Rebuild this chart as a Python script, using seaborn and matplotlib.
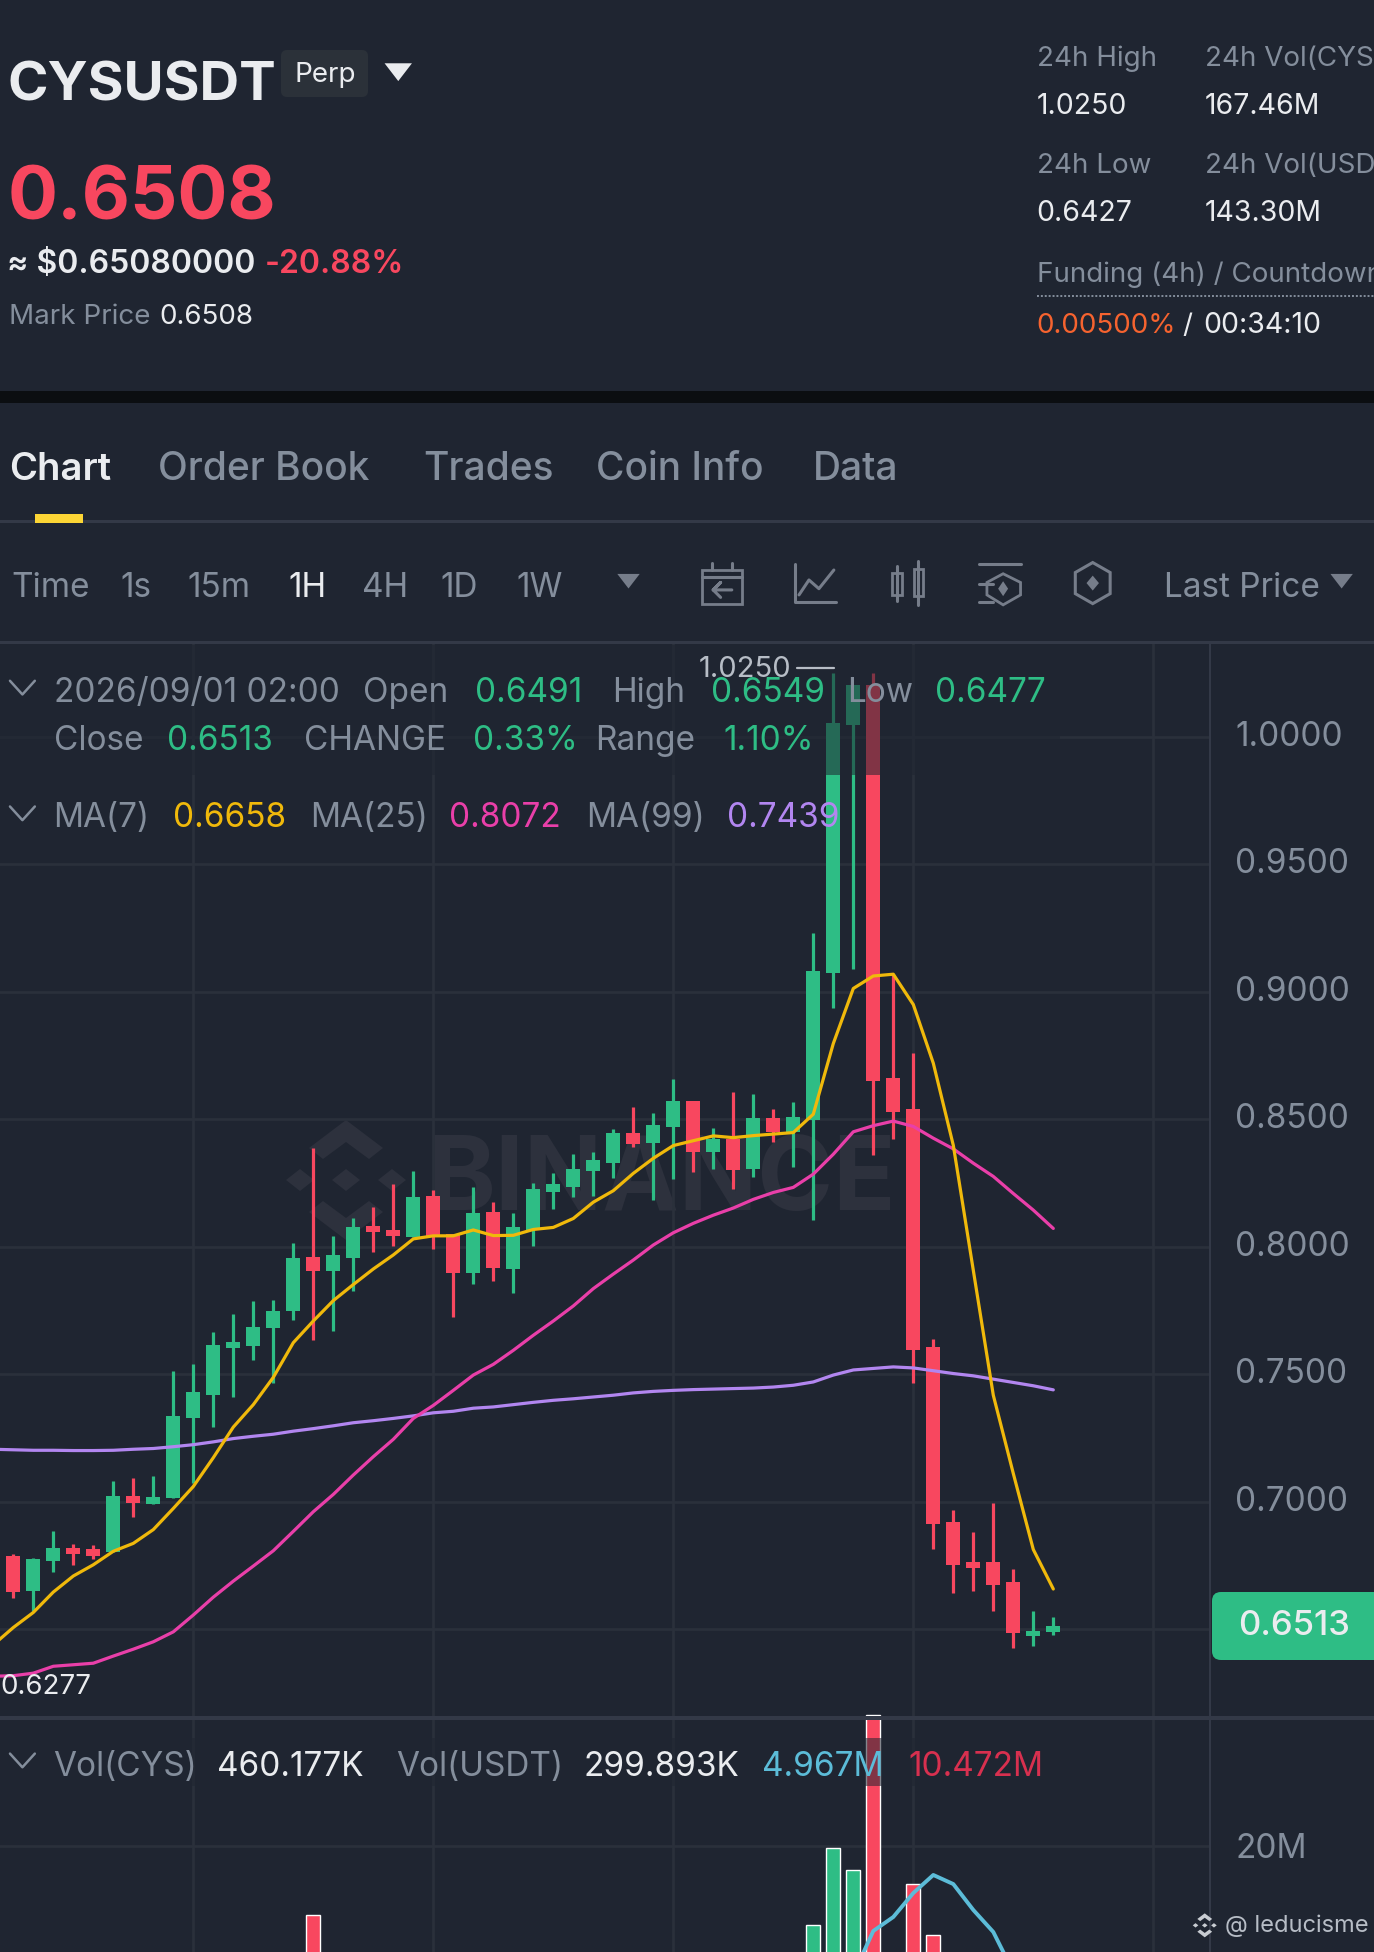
import numpy as np
import pandas as pd
import matplotlib
matplotlib.use("Agg")
import matplotlib.pyplot as plt
from matplotlib.patches import Polygon, Rectangle, FancyBboxPatch
from matplotlib.transforms import ScaledTranslation
import seaborn as sns

# ---------- data ----------
first_index = -1
opens = [.6646,.6789,.6650,.6767,.6820,.6813,.6803,.7024,.6993,.7014,.7330,.7418,.7605,.7612,.7680,.7747,.7961,.7905,
         .7957,.8080,.8066,.8039,.8201,.8049,.7896,.8138,.7914,.8065,.8216,.8236,.8297,.8329,.8445,.8407,.8469,.8572,
         .8373,.8424,.8304,.8505,.8450,.8496,.9072,1.0045,1.0202,.8662,.8542,.7608,.6922,.6765,.6765,.6686,.6475,.6491]
closes = [.6791,.6646,.6777,.6820,.6796,.6787,.7022,.6995,.7020,.7337,.7430,.7614,.7626,.7684,.7748,.7957,.7906,.7966,
          .8078,.8058,.8044,.8196,.8041,.7896,.8133,.7915,.8076,.8225,.8246,.8306,.8339,.8445,.8404,.8476,.8571,.8373,
          .8424,.8300,.8505,.8450,.8508,.9082,1.0055,1.0202,.8651,.8528,.7597,.6912,.6754,.6742,.6674,.6484,.6494,.6513]
highs = [.6791,.6796,.6779,.6884,.6833,.6830,.7080,.7094,.7100,.7514,.7539,.7667,.7738,.7786,.7791,.8015,.8388,.8044,
         .8112,.8158,.8248,.8296,.8223,.8049,.8236,.8177,.8134,.8249,.8288,.8363,.8370,.8461,.8550,.8524,.8657,.8572,
         .8466,.8609,.8599,.8542,.8569,.9230,1.0250,1.0202,1.0250,.9069,.8759,.7639,.6967,.6882,.6996,.6737,.6570,.6549]
lows = [.6646,.6621,.6570,.6723,.6752,.6777,.6803,.6940,.6990,.7014,.7075,.7293,.7412,.7556,.7466,.7711,.7636,.7670,
        .7827,.7978,.8002,.8039,.7993,.7726,.7854,.7864,.7817,.8003,.8147,.8194,.8199,.8271,.8390,.8183,.8264,.8292,
        .8304,.8225,.8272,.8412,.8314,.8105,.8936,.9090,.8359,.8423,.7467,.6816,.6644,.6651,.6571,.6427,.6433,.6477]
ma7 = [.6439,.6507,.6566,.6646,.6709,.6753,.6806,.6837,.6891,.6974,.7060,.7173,.7293,.7381,.7488,.7624,.7709,.7789,
       .7852,.7913,.7968,.8031,.8043,.8043,.8066,.8044,.8045,.8068,.8076,.8111,.8175,.8220,.8288,.8347,.8397,.8416,
       .8435,.8428,.8436,.8442,.8448,.8520,.8797,.9013,.9062,.9069,.8950,.8720,.8398,.7908,.7418,.7111,.6813,.6658]
ma25 = [.6316,.6318,.6328,.6355,.6361,.6367,.6395,.6422,.6451,.6490,.6556,.6626,.6689,.6748,.6808,.6884,.6961,.7029,
        .7105,.7177,.7245,.7327,.7378,.7437,.7497,.7539,.7594,.7653,.7709,.7768,.7836,.7893,.7948,.8007,.8055,.8092,
        .8124,.8152,.8186,.8213,.8233,.8285,.8363,.8451,.8475,.8493,.8472,.8426,.8384,.8328,.8276,.8209,.8144,.8072]
ma99 = [.7206,.7204,.7202,.7202,.7201,.7201,.7202,.7206,.7209,.7216,.7224,.7235,.7248,.7257,.7265,.7277,.7287,.7298,
        .7310,.7318,.7327,.7337,.7349,.7355,.7367,.7372,.7381,.7390,.7398,.7404,.7411,.7418,.7427,.7433,.7437,.7440,
        .7442,.7444,.7446,.7450,.7457,.7470,.7497,.7517,.7523,.7529,.7525,.7514,.7503,.7494,.7481,.7468,.7455,.7439]
price_ticks = [0.65, 0.70, 0.75, 0.80, 0.85, 0.90, 0.95, 1.00]
price_labels = ["", "0.7000", "0.7500", "0.8000", "0.8500", "0.9000", "0.9500", "1.0000"]
grid_candles = [9, 21, 33, 45, 57]

vol_index = [15, 40, 41, 42, 43, 45, 46]
vol_millions = [13.2, 12.3, 19.8, 17.6, 32.8, 16.3, 11.3]
vol_is_up = [False, True, True, True, False, False, False]
vol_ma_index = [42, 43, 44, 45, 46, 47, 48, 49, 50]
vol_ma5 = [7.4, 11.67, 13.04, 15.39, 17.16, 16.27, 13.73, 11.57, 7.65]

# ---------- style ----------
BG = "#1F2531"; GRID = "#2A303B"; LINE = "#333947"
GREEN = "#2EBD85"; RED = "#F8475F"; YEL = "#F0B90B"; PINK = "#E93FA9"; PUR = "#B286F0"; BLUE = "#5CBCD8"
GRAY = "#848E9C"; WHITE = "#EAECEF"; WM = "#2D313D"
sns.set_theme(style="dark")
plt.rcParams["font.family"] = ["Inter", "DejaVu Sans"]
W, H = 1374, 1952
fig = plt.figure(figsize=(W / 100, H / 100), dpi=100, facecolor=BG)

def axes_px(x0, y0, x1, y1, z):
    a = fig.add_axes([x0 / W, 1 - y1 / H, (x1 - x0) / W, (y1 - y0) / H], zorder=z)
    a.patch.set_alpha(0)
    return a

S = W / 1104.0
# ---------- background UI axes (watermark) ----------
back = axes_px(0, 0, W, H, 0); back.set_xlim(0, W); back.set_ylim(H, 0); back.axis("off")

def diamond(a, cx, cy, r, color, z=1, ry=None):
    ry = ry or r
    a.add_patch(Polygon([(cx - r, cy), (cx, cy - ry), (cx + r, cy), (cx, cy + ry)], fc=color, ec="none", zorder=z))

def binance_logo(a, cx, cy, u, color, z=1):
    diamond(a, cx, cy, 14 * u, color, z, 11 * u)
    diamond(a, cx - 46 * u, cy, 14 * u, color, z, 11 * u)
    diamond(a, cx + 46 * u, cy, 14 * u, color, z, 11 * u)
    for s in (-1, 1):
        a.add_patch(Polygon([(cx, cy + s * 60 * u), (cx + 37 * u, cy + s * 32 * u), (cx + 23 * u, cy + s * 21 * u),
                             (cx, cy + s * 38 * u), (cx - 23 * u, cy + s * 21 * u), (cx - 37 * u, cy + s * 32 * u)],
                            fc=color, ec="none", zorder=z))

binance_logo(back, 346, 1180, 1.0, WM)
back.text(427, 1183, "BINANCE", color=WM, fontsize=74, fontweight="bold", va="center", ha="left")

# ---------- price pane ----------
ax = axes_px(0, 643, 1210, 1718, 5)
xmin, xmax = -13.3 / 20, (1210 - 13.3) / 20
x = np.arange(first_index, first_index + len(opens))
df = pd.DataFrame(dict(x=x, o=opens, c=closes, h=highs, l=lows, ma7=ma7, ma25=ma25, ma99=ma99))
up = df.c >= df.o
cols = np.where(up, GREEN, RED)
ax.vlines(df.x, df.l, df.h, colors=cols, linewidth=2.3, zorder=3)
ax.bar(df.x, (df.c - df.o).abs(), bottom=df[["o", "c"]].min(axis=1), width=0.7, color=cols, zorder=3, linewidth=0)
sns.lineplot(data=df, x="x", y="ma99", ax=ax, color=PUR, linewidth=2.3, zorder=4)
sns.lineplot(data=df, x="x", y="ma25", ax=ax, color=PINK, linewidth=2.3, zorder=4)
sns.lineplot(data=df, x="x", y="ma7", ax=ax, color=YEL, linewidth=2.3, zorder=4)
ax.set_xlim(xmin, xmax)
ax.set_ylim(0.65 - 88.7 / 2550, 0.65 + 986.3 / 2550)
ax.set_xticks(grid_candles); ax.set_xticklabels([])
ax.set_yticks(price_ticks); ax.set_yticklabels(price_labels, color=GRAY, fontsize=24)
ax.yaxis.tick_right()
ax.tick_params(axis="y", length=0, pad=18); ax.tick_params(axis="x", length=0)
ax.set_xlabel(""); ax.set_ylabel("")
ax.grid(True, color=GRID, linewidth=2.0, zorder=0); ax.set_axisbelow(True)
for s in ax.spines.values():
    s.set_visible(False)
nudge = ScaledTranslation(0, 2.5 / 72, fig.dpi_scale_trans)
for lab in ax.get_yticklabels():
    lab.set_transform(lab.get_transform() + nudge)

# ---------- volume pane ----------
vx = axes_px(0, 1718, 1210, H, 5)
vdf = pd.DataFrame(dict(x=vol_ma_index, m=vol_ma5))
bars = vx.bar(vol_index, vol_millions, width=0.7, color=[GREEN if u else RED for u in vol_is_up], zorder=3, clip_on=False)
sns.lineplot(data=vdf, x="x", y="m", ax=vx, color=BLUE, linewidth=2.8, zorder=4)
vx.set_xlim(xmin, xmax)
vx.set_ylim((2050 - H) / 10.2, (2050 - 1718) / 10.2)
vx.set_xticks(grid_candles); vx.set_xticklabels([])
vx.set_yticks([20]); vx.set_yticklabels(["20M"], color=GRAY, fontsize=24)
vx.yaxis.tick_right()
vx.tick_params(axis="y", length=0, pad=18); vx.tick_params(axis="x", length=0)
vx.set_xlabel(""); vx.set_ylabel("")
vx.grid(True, color=GRID, linewidth=2.0, zorder=0); vx.set_axisbelow(True)
for s in vx.spines.values():
    s.set_visible(False)

# ---------- foreground UI ----------
ui = axes_px(0, 0, W, H, 10); ui.set_xlim(0, W); ui.set_ylim(H, 0); ui.axis("off")

def T(xd, yd, s, c=GRAY, fs=24, w="normal", ha="left"):
    ui.text(xd * S, (yd + 2.6) * S, s, color=c, fontsize=fs, fontweight=w, ha=ha, va="center", clip_on=True)

def tri(xd, yd, r, c):
    ui.add_patch(Polygon([((xd - r) * S, (yd - r * .65) * S), ((xd + r) * S, (yd - r * .65) * S), (xd * S, (yd + r * .65) * S)], fc=c, ec="none"))

def hline(y0, y1, x0=0, x1=W, c=LINE, a=1):
    ui.add_patch(Rectangle((x0, y0), x1 - x0, y1 - y0, fc=c, ec="none", alpha=a))

def chevron(xd, yd):
    ui.plot([(xd - 10) * S, xd * S, (xd + 10) * S], [(yd - 6) * S, (yd + 5) * S, (yd - 6) * S], color=GRAY, lw=1.8, solid_capstyle="round")

# dim layers under legend rows
hline(645, 775, 0, 1060, BG, 0.55)
hline(1738, 1786, 0, 1060, BG, 0.55)

# separators
hline(391, 403, c="#0B0E11")
hline(520, 523); hline(641, 644); hline(1716, 1720)
ui.add_patch(Rectangle((1209, 644), 2, H - 644, fc=LINE, ec="none"))
hline(514, 523, 35, 83, "#FCD535")

# header
T(6, 67, "CYSUSDT", WHITE, 39.5, "bold")
ui.add_patch(FancyBboxPatch((281, 50), 87, 47, boxstyle="round,pad=0,rounding_size=6", fc="#2B3139", ec="none"))
T(237, 58, "Perp", WHITE, 20)
tri(320, 58, 11, WHITE)
T(6, 158, "0.6508", RED, 53.5, "bold")
T(6, 210, "≈ $0.65080000", WHITE, 23, "semibold")
T(213, 210, "-20.88%", RED, 23, "semibold")
T(7, 252, "Mark Price", GRAY, 20)
T(128, 252, "0.6508", WHITE, 20)
T(833, 45, "24h High", GRAY, 20); T(833, 83, "1.0250", WHITE, 20.5)
T(968, 45, "24h Vol(CYS)", GRAY, 20); T(968, 83, "167.46M", WHITE, 20.5)
T(833, 131, "24h Low", GRAY, 20); T(833, 169, "0.6427", WHITE, 20.5)
T(968, 131, "24h Vol(USDT)", GRAY, 20); T(968, 169, "143.30M", WHITE, 20.5)
T(833, 218, "Funding (4h) / Countdown", GRAY, 20)
ui.plot([833 * S, W], [237.5 * S, 237.5 * S], color=GRAY, lw=1.4, ls=(0, (1, 1)))
T(833, 259, "0.00500%", "#F6632F", 20); T(950, 259, "/", WHITE, 20); T(967, 259, "00:34:10", WHITE, 20.5)

# tabs
T(7, 375, "Chart", WHITE, 27.5, "semibold")
for xd, s in [(127, "Order Book"), (340, "Trades"), (479, "Coin Info"), (653, "Data")]:
    T(xd, 375, s, GRAY, 28, "medium")

# toolbar
for xd, s, c in [(9, "Time", GRAY), (97, "1s", GRAY), (151, "15m", GRAY), (232, "1H", WHITE), (291, "4H", GRAY),
                 (354, "1D", GRAY), (415, "1W", GRAY), (935, "Last Price", GRAY)]:
    T(xd, 470, s, c, 24)
ICON = "#767D8A"
tri(505, 467, 9, ICON); tri(1078, 467, 9, ICON)
def R(xd, yd, wd, hd, fill=False):
    ui.add_patch(Rectangle((xd * S, yd * S), wd * S, hd * S, fc=ICON if fill else "none", ec=ICON, lw=2))
def L(xs, ys):
    ui.plot([v * S for v in xs], [v * S for v in ys], color=ICON, lw=2.2)
R(564, 458, 32, 27); L([564, 596], [464, 464]); L([572, 572], [452, 458]); L([588, 588], [452, 458]); L([588, 573, 579, 573, 579], [474, 474, 468, 474, 480])
L([639, 639, 672], [453, 484, 484]); L([642, 650, 658, 670], [478, 466, 473, 458])
R(717, 460, 8, 18); L([721, 721], [455, 483]); R(734, 457, 8, 22); L([738, 738], [451, 486])
L([787, 820], [453, 453]); L([787, 798], [469, 469]); L([787, 798], [484, 484])
ui.add_patch(Polygon([(806 * S, 461 * S), (820 * S, 468 * S), (820 * S, 478 * S), (806 * S, 486 * S), (793 * S, 478 * S), (793 * S, 468 * S)], fc="none", ec=ICON, lw=2))
diamond(ui, 806 * S, 473 * S, 4 * S, ICON, 2, 6 * S)
ui.add_patch(Polygon([(878 * S, 452 * S), (892 * S, 460 * S), (892 * S, 477 * S), (878 * S, 485 * S), (864 * S, 477 * S), (864 * S, 460 * S)], fc="none", ec=ICON, lw=2.2))
diamond(ui, 878 * S, 468.5 * S, 5 * S, ICON, 2, 6 * S)

# legends
T(561, 535, "1.0250", "#B7BDC6", 21)
L2 = "#B7BDC6"
ui.plot([640 * S, 670 * S], [537 * S, 537 * S], color=L2, lw=1.6)
chevron(18, 553)
T(43, 554, "2026/09/01 02:00"); T(292, 554, "Open"); T(382, 554, "0.6491", GREEN); T(492, 554, "High")
T(571, 554, "0.6549", GREEN); T(681, 554, "Low"); T(751, 554, "0.6477", GREEN)
T(43, 593, "Close"); T(134, 593, "0.6513", GREEN); T(244, 593, "CHANGE"); T(380, 593, "0.33%", GREEN)
T(478, 593, "Range"); T(581, 593, "1.10%", GREEN)
chevron(18, 654)
T(43, 655, "MA(7)"); T(139, 655, "0.6658", YEL); T(249, 655, "MA(25)"); T(361, 655, "0.8072", PINK)
T(471, 655, "MA(99)"); T(584, 655, "0.7439", PUR)
T(0, 1353, "0.6277", WHITE, 20)
chevron(18, 1415)
T(43, 1417, "Vol(CYS)"); T(174, 1417, "460.177K", WHITE); T(318, 1417, "Vol(USDT)"); T(469, 1417, "299.893K", WHITE)
T(612, 1417, "4.967M", BLUE); T(730, 1417, "10.472M", "#D8304F")

# last price tag
ui.add_patch(FancyBboxPatch((1212, 1592), 175, 68, boxstyle="round,pad=0,rounding_size=9", fc=GREEN, ec="none", clip_on=True))
T(1040, 1304, "0.6513", WHITE, 25, "medium", "center")

# attribution
binance_logo(ui, 968 * S, 1547 * S, 0.2, "#C8CCD2", 12)
T(984, 1545, "@ leducisme", "#B7BDC6", 17)

fig.savefig("out.png", dpi=100, facecolor=BG)
